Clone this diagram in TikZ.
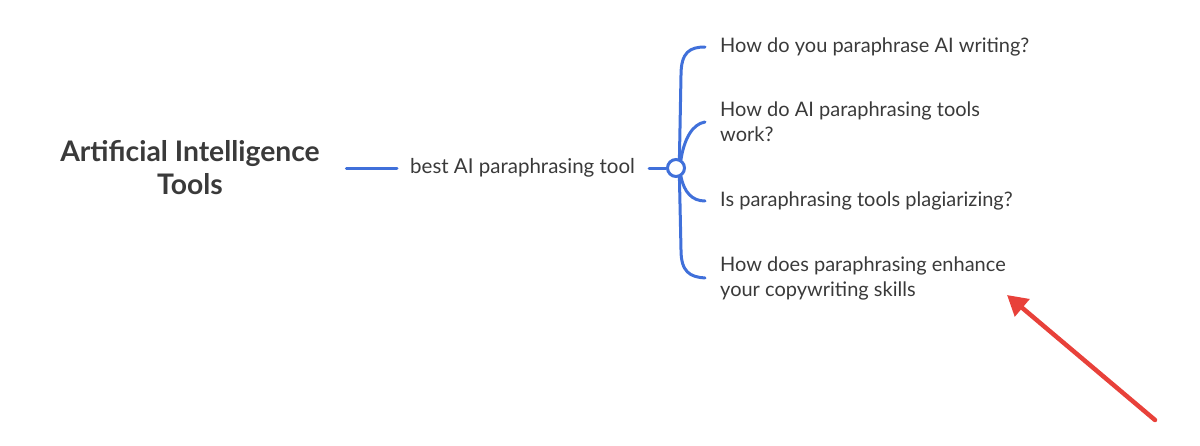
\documentclass[tikz,border=0pt]{standalone}
\usepackage{fontspec}
\setmainfont{Lato}
\usetikzlibrary{arrows.meta}
\definecolor{mapblue}{HTML}{4070DA}
\definecolor{maptext}{HTML}{3A3A3A}
\definecolor{arrowred}{HTML}{E8413A}
\tikzset{
	branch/.style={mapblue, line width=3pt, line cap=round},
	question/.style={anchor=west, inner sep=0pt, align=left, text=maptext, font=\fontsize{20}{25}\selectfont}
}

\begin{document}
\begin{tikzpicture}[x=1pt, y=-1pt]
			\useasboundingbox (0,0) rectangle (1200,445);
			\node[align=center, text=maptext, font=\bfseries\fontsize{28.3}{33}\selectfont] (root) at (190,168) {Artificial Intelligence\\Tools};
			\node[anchor=west, inner sep=0pt, text=maptext, font=\fontsize{20.5}{25}\selectfont] (topic) at (410,168) {best AI paraphrasing tool};
			\node[circle, draw=mapblue, line width=3pt, fill=white, minimum size=17pt, inner sep=0pt] (hub) at (676,168) {};
			\node[question] (q1) at (720,47) {How do you paraphrase AI writing?};
			\node[question] (q2) at (720,122) {How do AI paraphrasing tools\\work?};
			\node[question] (q3) at (720,201) {Is paraphrasing tools plagiarizing?};
			\node[question] (q4) at (720,278) {How does paraphrasing enhance\\your copywriting skills};
			\draw[branch] ([xshift=23pt]root.east) -- ([xshift=-13pt]topic.west);
			\draw[branch] ([xshift=14pt]topic.east) -- (hub.west);
			\draw[branch] (hub.70) -- (681,75) .. controls (681,52) and (690,47) .. ([xshift=-15pt]q1.west);
			\draw[branch] (hub.60) .. controls (684,140) and (692,124) .. ([xshift=-15pt]q2.west);
			\draw[branch] (hub.-60) .. controls (684,192) and (692,201) .. ([xshift=-15pt]q3.west);
			\draw[branch] (hub.-70) -- (681,250) .. controls (681,272) and (690,277) .. ([xshift=-15pt]q4.west);
			\coordinate (tail) at (1155,420);
			\coordinate (tip) at (1007,295);
			\draw[arrowred, line width=4.5pt, line cap=round, -{Triangle[length=20pt, width=22pt]}] (tail) -- (tip);
		\end{tikzpicture}
\end{document}
